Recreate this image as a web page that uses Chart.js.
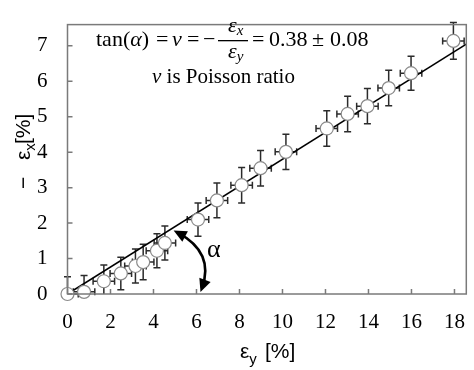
<!DOCTYPE html>
<html>
<head>
<meta charset="utf-8">
<script src="https://cdn.jsdelivr.net/npm/chart.js@4/dist/chart.umd.min.js"></script>
<style>
html,body{margin:0;padding:0;background:#fff;}
#wrap{width:474px;height:370px;}
</style>
</head>
<body>
<div id="wrap"><canvas id="c" width="474" height="370"></canvas></div>
<script>
// ---- data ----
const xTicks = [0, 2, 4, 6, 8, 10, 12, 14, 16, 18];
const yTicks = [0, 1, 2, 3, 4, 5, 6, 7];
const epsY = [0, 0.77, 1.69, 2.48, 3.16, 3.52, 4.16, 4.53, 6.07, 6.95, 8.1, 8.98, 10.16, 12.06, 13.03, 13.95, 14.94, 15.98, 17.95];
const epsX = [0, 0.06, 0.36, 0.58, 0.79, 0.9, 1.22, 1.44, 2.1, 2.64, 3.07, 3.55, 4.01, 4.67, 5.08, 5.3, 5.81, 6.23, 7.14];
const errEpsY = [0.5, 0.5, 0.5, 0.5, 0.5, 0.5, 0.5, 0.5, 0.5, 0.5, 0.5, 0.5, 0.5, 0.5, 0.5, 0.5, 0.5, 0.5, 0.5];
const errEpsX = [0.49, 0.46, 0.46, 0.46, 0.48, 0.5, 0.48, 0.48, 0.47, 0.49, 0.5, 0.5, 0.5, 0.5, 0.5, 0.5, 0.5, 0.48, 0.52];
const nu = 0.38;
const xRange = [0, 18.55];
const yRange = [0, 7.6];

const points = epsY.map((v, i) => ({x: v, y: epsX[i]}));
const fitLine = xRange.map(v => ({x: v, y: nu * v}));

const GRAY = '#7a7a7a';
const SERIF = '"Liberation Serif", "Times New Roman", serif';
const SANS = '"Liberation Sans", Arial, sans-serif';

function drawSegs(ctx, x, y, segs) {
  for (const s of segs) {
    ctx.font = s.f;
    const px = (s.x !== undefined) ? s.x : x;
    ctx.fillText(s.t, px, y + (s.dy || 0));
    x = px + ctx.measureText(s.t).width;
  }
  return x;
}

const extras = {
  id: 'extras',
  beforeDatasetsDraw(chart) {
    const ctx = chart.ctx, xs = chart.scales.x, ys = chart.scales.y;
    ctx.save();
    ctx.strokeStyle = '#2b2b2b';
    ctx.lineWidth = 1.5;
    const cap = 3.5;
    points.forEach((p, i) => {
      const px = xs.getPixelForValue(p.x), py = ys.getPixelForValue(p.y);
      const y1 = ys.getPixelForValue(p.y + errEpsX[i]);
      const y0 = ys.getPixelForValue(Math.max(0, p.y - errEpsX[i]));
      const x0 = xs.getPixelForValue(p.x - errEpsY[i]);
      const x1 = xs.getPixelForValue(p.x + errEpsY[i]);
      ctx.beginPath();
      ctx.moveTo(px, y0); ctx.lineTo(px, y1);
      ctx.moveTo(px - cap, y1); ctx.lineTo(px + cap, y1);
      if (p.y - errEpsX[i] > 0) { ctx.moveTo(px - cap, y0); ctx.lineTo(px + cap, y0); }
      if (p.x - errEpsY[i] > 0) {
        ctx.moveTo(x0, py); ctx.lineTo(px, py);
        ctx.moveTo(x0, py - cap); ctx.lineTo(x0, py + cap);
      }
      ctx.moveTo(px, py); ctx.lineTo(x1, py);
      ctx.moveTo(x1, py - cap); ctx.lineTo(x1, py + cap);
      ctx.stroke();
    });
    ctx.restore();
  },
  afterDraw(chart) {
    const ctx = chart.ctx, a = chart.chartArea, xs = chart.scales.x, ys = chart.scales.y;
    ctx.save();
    // frame
    ctx.strokeStyle = GRAY;
    ctx.lineWidth = 1.5;
    ctx.strokeRect(a.left, a.top, a.right - a.left, a.bottom - a.top);
    // inward ticks
    ctx.beginPath();
    xTicks.forEach(v => { const px = xs.getPixelForValue(v); ctx.moveTo(px, a.bottom); ctx.lineTo(px, a.bottom - 5); });
    yTicks.forEach(v => { const py = ys.getPixelForValue(v); ctx.moveTo(a.left, py); ctx.lineTo(a.left + 5, py); });
    ctx.stroke();

    ctx.fillStyle = '#000';
    ctx.textBaseline = 'alphabetic';
    ctx.textAlign = 'left';
    const S = '21px ' + SANS, SS = '15px ' + SANS;
    // x-axis title
    drawSegs(ctx, 240, 358, [{t: 'ε', f: S}, {t: 'y', f: SS, dy: 6}, {t: '[%]', f: S, x: 265}]);
    // y-axis title (rotated)
    ctx.save();
    ctx.translate(30, 0);
    ctx.rotate(-Math.PI / 2);
    drawSegs(ctx, -189, 0, [{t: '−', f: S}, {t: 'ε', f: S, x: -160}, {t: 'x', f: SS, dy: 5}, {t: '[%]', f: S, x: -144}]);
    ctx.restore();

    // equation
    const N = '22px ' + SERIF, I = 'italic 22px ' + SERIF, IS = 'italic 15px ' + SERIF;
    drawSegs(ctx, 96, 46, [{t: 'tan(', f: N}, {t: 'α', f: I}, {t: ')', f: N}]);
    drawSegs(ctx, 0, 46, [
      {t: '=', f: N, x: 156}, {t: 'ν', f: I, x: 172}, {t: '=', f: N, x: 187}, {t: '−', f: N, x: 203}
    ]);
    ctx.fillRect(218, 40, 30, 1.3);
    drawSegs(ctx, 228, 32, [{t: 'ε', f: I}, {t: 'x', f: IS, dy: 3}]);
    drawSegs(ctx, 228, 58, [{t: 'ε', f: I}, {t: 'y', f: IS, dy: 3}]);
    drawSegs(ctx, 0, 46, [
      {t: '=', f: N, x: 252}, {t: '0.38', f: N, x: 269}, {t: '±', f: N, x: 312}, {t: '0.08', f: N, x: 330}
    ]);
    drawSegs(ctx, 152, 83, [{t: 'ν', f: 'italic 21px ' + SERIF}, {t: ' is Poisson ratio', f: '21px ' + SERIF}]);

    // angle arrow
    const p0 = {x: xs.getPixelForValue(5.1), y: ys.getPixelForValue(1.74)};
    const p2 = {x: xs.getPixelForValue(6.25), y: ys.getPixelForValue(0.16)};
    const c = {x: p0.x + 38, y: p0.y + 20};
    ctx.strokeStyle = '#000';
    ctx.lineWidth = 2.6;
    ctx.beginPath();
    ctx.moveTo(p0.x, p0.y);
    ctx.quadraticCurveTo(c.x, c.y, p2.x, p2.y);
    ctx.stroke();
    function head(tip, from) {
      const ang = Math.atan2(tip.y - from.y, tip.x - from.x);
      const L = 13, W = 6;
      ctx.beginPath();
      ctx.moveTo(tip.x + Math.cos(ang) * 4, tip.y + Math.sin(ang) * 4);
      ctx.lineTo(tip.x - Math.cos(ang) * (L - 4) + Math.sin(ang) * W, tip.y - Math.sin(ang) * (L - 4) - Math.cos(ang) * W);
      ctx.lineTo(tip.x - Math.cos(ang) * (L - 4) - Math.sin(ang) * W, tip.y - Math.sin(ang) * (L - 4) + Math.cos(ang) * W);
      ctx.closePath();
      ctx.fill();
    }
    head(p0, c);
    head(p2, c);
    ctx.font = '26px ' + SERIF;
    ctx.fillText('α', 207, 257);
    ctx.restore();
  }
};

new Chart(document.getElementById('c'), {
  type: 'scatter',
  data: {
    datasets: [
      {
        label: 'data',
        data: points,
        pointRadius: 6.5,
        pointHoverRadius: 6.5,
        pointBackgroundColor: '#fff',
        pointBorderColor: '#8a8a8a',
        pointBorderWidth: 1.2,
        showLine: false,
        clip: false,
        order: 0
      },
      {
        type: 'line',
        label: 'fit',
        data: fitLine,
        borderColor: '#000',
        borderWidth: 1.6,
        pointRadius: 0,
        fill: false,
        order: 1
      }
    ]
  },
  options: {
    responsive: false,
    animation: false,
    events: [],
    layout: {padding: {top: 9, right: 5, left: 0, bottom: 0}},
    plugins: {legend: {display: false}, tooltip: {enabled: false}},
    scales: {
      x: {
        type: 'linear', min: xRange[0], max: xRange[1],
        afterBuildTicks: s => { s.ticks = xTicks.map(v => ({value: v})); },
        afterFit: s => { s.height = 76; },
        grid: {display: false}, border: {display: false},
        ticks: {color: '#000', font: {family: SERIF, size: 21}, padding: 8, maxRotation: 0, autoSkip: false}
      },
      y: {
        type: 'linear', min: yRange[0], max: yRange[1],
        afterBuildTicks: s => { s.ticks = yTicks.map(v => ({value: v})); },
        afterFit: s => { s.width = 67.5; },
        grid: {display: false}, border: {display: false},
        ticks: {color: '#000', font: {family: SERIF, size: 21}, padding: 12}
      }
    }
  },
  plugins: [extras]
});
</script>
</body>
</html>
